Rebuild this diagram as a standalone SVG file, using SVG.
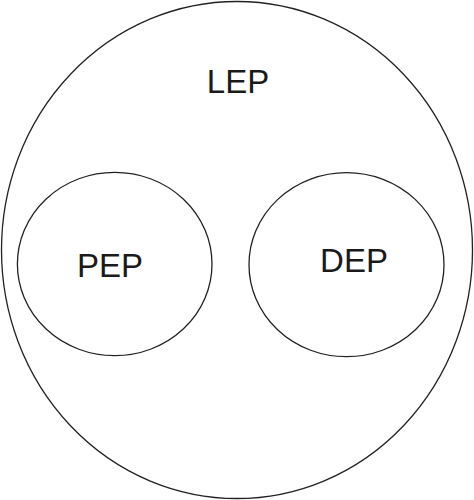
<svg xmlns="http://www.w3.org/2000/svg" width="474" height="500" viewBox="0 0 474 500">
<style>
.e{fill:none;stroke:#222;stroke-width:1.3}
.t{font-family:"Liberation Sans",Arial,sans-serif;font-size:33px;fill:#1a1a1a;text-anchor:middle}
</style>
<rect width="474" height="500" fill="#fff"/>
<g id="LEP"><ellipse class="e" cx="237" cy="250" rx="235.5" ry="248.5"/><text class="t" x="238" y="93">LEP</text></g>
<g id="PEP"><ellipse class="e" cx="114.7" cy="264" rx="97.3" ry="91.7"/><text class="t" x="110" y="277">PEP</text></g>
<g id="DEP"><ellipse class="e" cx="346.5" cy="264.7" rx="97.5" ry="92"/><text class="t" x="354" y="272">DEP</text></g>
<g id="connectors"/>
</svg>
